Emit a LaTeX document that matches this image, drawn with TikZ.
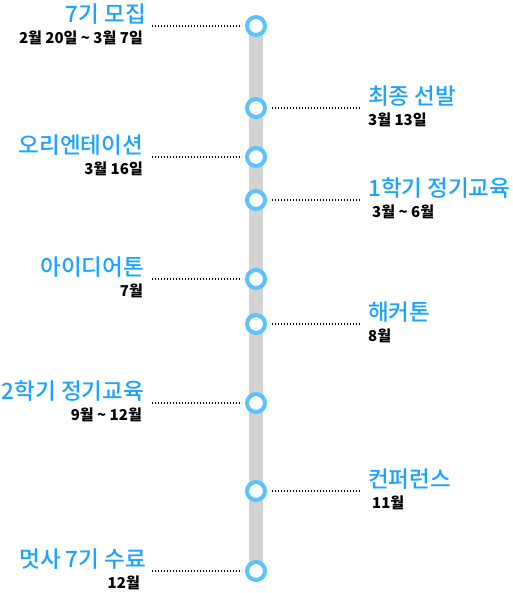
\documentclass[tikz,border=0pt]{standalone}
\usepackage{fontspec}
\setmainfont{Noto Sans CJK KR}
\newfontfamily\titlefont{Noto Sans CJK KR Medium}
\usetikzlibrary{positioning}

\definecolor{titleblue}{HTML}{1AA3FF}
\definecolor{ringblue}{HTML}{5BC2FF}
\definecolor{bargray}{HTML}{D3D3D3}

\begin{document}
\begin{tikzpicture}[x=1pt, y=-1pt,
			ring/.style={draw=ringblue, line width=4pt, fill=white, circle, minimum size=18pt, inner sep=0pt},
			leader/.style={dash pattern=on 1.2pt off 1.8pt, line width=1.2pt, shorten >=3pt},
			title/.style={text=titleblue, font=\titlefont\fontsize{22.5}{25}\selectfont, inner sep=0pt},
			date/.style={font=\bfseries\fontsize{15}{17}\selectfont, inner sep=0pt}]
			
			\useasboundingbox (0,0) rectangle (512,593);
			
			% 세로 막대
			\fill[bargray] (249,26) rectangle (263,571);
			
			% 원
			\node[ring] (c1) at (256,26) {};
			\node[ring] (c2) at (256,108) {};
			\node[ring] (c3) at (256,157) {};
			\node[ring] (c4) at (256,200) {};
			\node[ring] (c5) at (256,279) {};
			\node[ring] (c6) at (256,324) {};
			\node[ring] (c7) at (256,403) {};
			\node[ring] (c8) at (256,491) {};
			\node[ring] (c9) at (256,571) {};
			
			% 점선 끝
			\coordinate (l1) at (152,26);
			\coordinate (r2) at (360,108);
			\coordinate (l3) at (152,157);
			\coordinate (r4) at (360,200);
			\coordinate (l5) at (152,279);
			\coordinate (r6) at (360,324);
			\coordinate (l7) at (152,403);
			\coordinate (r8) at (360,491);
			\coordinate (l9) at (152,571);
			
			% 왼쪽 일정
			\node[title, above left=1pt and 6pt of l1] (t1) {7기 모집};
			\node[date, below left=5pt and 9pt of l1] (d1) {2월 20일 \textasciitilde{} 3월 7일};
			\node[title, above left=1pt and 9pt of l3] (t3) {오리엔테이션};
			\node[date, below left=5pt and 9pt of l3] (d3) {3월 16일};
			\node[title, above left=1pt and 8pt of l5] (t5) {아이디어톤};
			\node[date, below left=5pt and 9pt of l5] (d5) {7월};
			\node[title, above left=1pt and 8pt of l7] (t7) {2학기 정기교육};
			\node[date, below left=5pt and 10pt of l7] (d7) {9월 \textasciitilde{} 12월};
			\node[title, above left=1pt and 6pt of l9] (t9) {멋사 7기 수료};
			\node[date, below left=5pt and 12pt of l9] (d9) {12월};
			
			% 오른쪽 일정
			\node[title, above right=1pt and 8pt of r2] (t2) {최종 선발};
			\node[date, below right=5pt and 8pt of r2] (d2) {3월 13일};
			\node[title, above right=1pt and 8pt of r4] (t4) {1학기 정기교육};
			\node[date, below right=5pt and 12pt of r4] (d4) {3월 \textasciitilde{} 6월};
			\node[title, above right=1pt and 8pt of r6] (t6) {해커톤};
			\node[date, below right=5pt and 8pt of r6] (d6) {8월};
			\node[title, above right=1pt and 8pt of r8] (t8) {컨퍼런스};
			\node[date, below right=5pt and 12pt of r8] (d8) {11월};
			
			% 점선
			\draw[leader] (l1) -- (c1);
			\draw[leader] (r2) -- (c2);
			\draw[leader] (l3) -- (c3);
			\draw[leader] (r4) -- (c4);
			\draw[leader] (l5) -- (c5);
			\draw[leader] (r6) -- (c6);
			\draw[leader] (l7) -- (c7);
			\draw[leader] (r8) -- (c8);
			\draw[leader] (l9) -- (c9);
			
		\end{tikzpicture}
\end{document}
